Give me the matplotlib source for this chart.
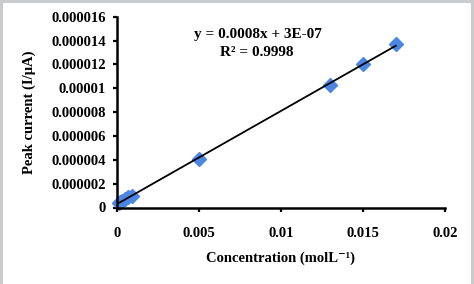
import numpy as np
import matplotlib
matplotlib.use("Agg")
import matplotlib.pyplot as plt
from matplotlib.lines import Line2D

# Data
conc = [0.0001, 0.0002, 0.0003, 0.0005, 0.0007, 0.0009, 0.005, 0.013, 0.015, 0.017]
current = [0.38e-6, 0.46e-6, 0.55e-6, 0.70e-6, 0.86e-6, 1.0e-6, 4.1e-6, 10.3e-6, 12.0e-6, 13.7e-6]
xticks = [0, 0.005, 0.01, 0.015, 0.02]
xticklabels = ["0", "0.005", "0.01", "0.015", "0.02"]
yticks = [0, 2e-6, 4e-6, 6e-6, 8e-6, 10e-6, 12e-6, 14e-6, 16e-6]
yticklabels = ["0", "0.000002", "0.000004", "0.000006", "0.000008",
               "0.00001", "0.000012", "0.000014", "0.000016"]
eq_text = "y = 0.0008x + 3E-07"
r2_text = "R² = 0.9998"

plt.rcParams['font.family'] = ['Liberation Serif', 'DejaVu Serif']
plt.rcParams['font.weight'] = 'bold'

fig = plt.figure(figsize=(4.74, 2.84), dpi=100)
ax = fig.add_axes([117/474, 1-207.5/284, (445-117)/474, (207.5-16.7)/284])

# trendline from data
c = np.array(conc)
slope, intercept = np.polyfit(c, np.array(current), 1)
xl = np.array([0, max(conc)])
ax.plot(xl, slope*xl + intercept, color='black', lw=1.3, zorder=3)
ax.plot(conc, current, linestyle='none', marker='D', markersize=7.5,
        color='#4C86E3', zorder=2, clip_on=False)

ax.set_xlim(0, 0.02)
ax.set_ylim(0, 1.6e-5)
ax.set_xticks(xticks)
ax.set_xticklabels(xticklabels, fontsize=10.5, fontweight='bold')
ax.set_yticks(yticks)
ax.set_yticklabels(yticklabels, fontsize=10.5, fontweight='bold')
ax.tick_params(axis='both', direction='out', length=3, width=1.6, color='black')
ax.tick_params(axis='x', pad=11)
ax.tick_params(axis='y', pad=5)
for s in ['top', 'right']:
    ax.spines[s].set_visible(False)
for s in ['left', 'bottom']:
    ax.spines[s].set_linewidth(1.8)

ax.set_xlabel("Concentration (molL⁻¹)", fontsize=10.5, fontweight='bold', labelpad=8)
ax.set_ylabel("Peak current (I/μA)", fontsize=10.5, fontweight='bold', labelpad=11)

fig.text(258/474, 1-35/284, eq_text, fontsize=11, fontweight='bold', ha='center', va='center')
fig.text(257/474, 1-52/284, r2_text, fontsize=11, fontweight='bold', ha='center', va='center')

bc = '#c9cbcc'
for xs, ys in [([0.003, 0.003], [0, 1]), ([0, 1], [0.995, 0.995]), ([0.995, 0.995], [0, 1])]:
    fig.add_artist(Line2D(xs, ys, transform=fig.transFigure, color=bc, lw=2.2))

fig.savefig("out.png", dpi=100)
